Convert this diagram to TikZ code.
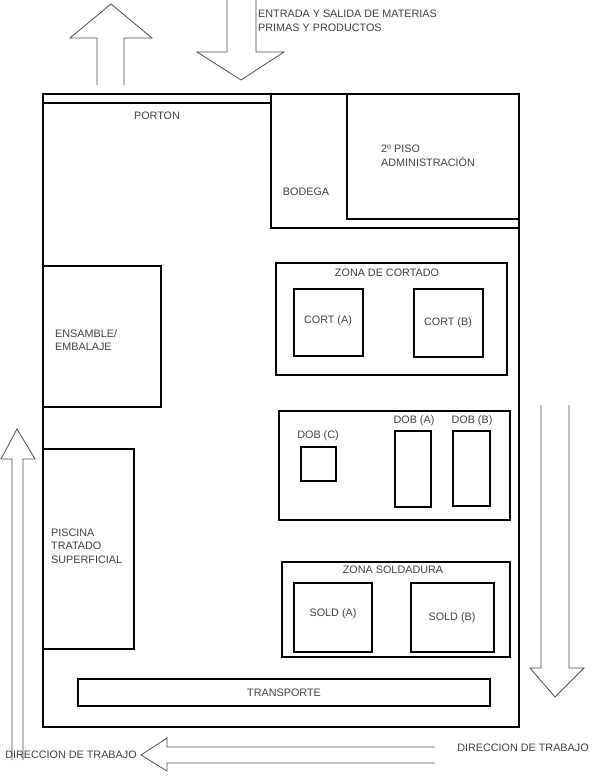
\documentclass[tikz,border=0pt]{standalone}
\usepackage{fontspec}
\setmainfont{Liberation Sans}
\usetikzlibrary{positioning}
\tikzset{
  wall/.style={draw, line width=1.2pt},
  room/.style={draw, line width=1.1pt},
  lbl/.style={font=\fontsize{10.8}{13.5}\selectfont, text=black!75, inner sep=0pt, align=left},
  flecha/.style={draw, line width=0.8pt, black!70}
}
\begin{document}
\begin{tikzpicture}[x=1pt,y=-1pt]
    \useasboundingbox (0,0) rectangle (611,782);
    % edificio
    \draw[wall] (43,94) rectangle (519,727);
    \draw[room] (43,103) -- (271,103);
    \draw[room] (271,94) -- (271,228) -- (519,228);
    \draw[room] (347,94) -- (347,219) -- (519,219);
    \node[lbl](porton) at (157,116){PORTON};
    \node[lbl](bodega) at (306,192){BODEGA};
    \node[lbl, anchor=west](admin) at (381,156){2º PISO\\ADMINISTRACIÓN};
    % ensamble y piscina
    \draw[room] (43,266) rectangle (161,407);
    \node[lbl, anchor=west](ensamble) at (55,340){ENSAMBLE/\\EMBALAJE};
    \draw[room] (43,449) rectangle (134,649);
    \node[lbl, anchor=west](piscina) at (51,546){PISCINA\\TRATADO\\SUPERFICIAL};
    % cortado
    \draw[room] (276,263) rectangle (507,375);
    \node[lbl](cortado) at (387,273){ZONA DE CORTADO};
    \draw[room] (294,289) rectangle (363,356);
    \node[lbl](cortA) at (328,321){CORT (A)};
    \draw[room] (414,289) rectangle (483,357);
    \node[lbl](cortB) at (448,323){CORT (B)};
    % dobladoras
    \draw[room] (279,411) rectangle (510,520);
    \node[lbl](dobC) at (318,436){DOB (C)};
    \draw[room] (301,447) rectangle (336,481);
    \node[lbl](dobA) at (414,421){DOB (A)};
    \draw[room] (395,431) rectangle (431,507);
    \node[lbl](dobB) at (472,421){DOB (B)};
    \draw[room] (453,431) rectangle (490,506);
    % soldadura
    \draw[room] (282,562) rectangle (510,657);
    \node[lbl](soldadura) at (393,570){ZONA SOLDADURA};
    \draw[room] (294,583) rectangle (372,652);
    \node[lbl](soldA) at (333,614){SOLD (A)};
    \draw[room] (411,583) rectangle (494,652);
    \node[lbl](soldB) at (452,618){SOLD (B)};
    % transporte
    \draw[room] (78,679) rectangle (490,706);
    \node[lbl](transporte) at (284,693){TRANSPORTE};
    % flechas
    \draw[flecha] (97,85) -- (97,38) -- (70,38) -- (111,4) -- (152,38) -- (124,38) -- (124,85);
    \draw[flecha] (227,0) -- (227,52) -- (197,52) -- (241,80) -- (284,52) -- (256,52) -- (256,0);
    \node[lbl, anchor=north west](entrada) at (258,10){ENTRADA Y SALIDA DE MATERIAS\\PRIMAS Y PRODUCTOS};
    \draw[flecha] (12,760) -- (12,459) -- (1,459) -- (17,429) -- (35,459) -- (23,459) -- (23,760);
    \draw[flecha] (541,405) -- (541,668) -- (530,668) -- (555,697) -- (584,668) -- (569,668) -- (569,405);
    \draw[flecha] (435,747) -- (167,747) -- (167,738) -- (141,755) -- (167,771) -- (167,763) -- (435,763);
    \node[lbl](dirIzq) at (71,755){DIRECCION DE TRABAJO};
    \node[lbl](dirDer) at (523,748){DIRECCION DE TRABAJO};
\end{tikzpicture}
\end{document}
